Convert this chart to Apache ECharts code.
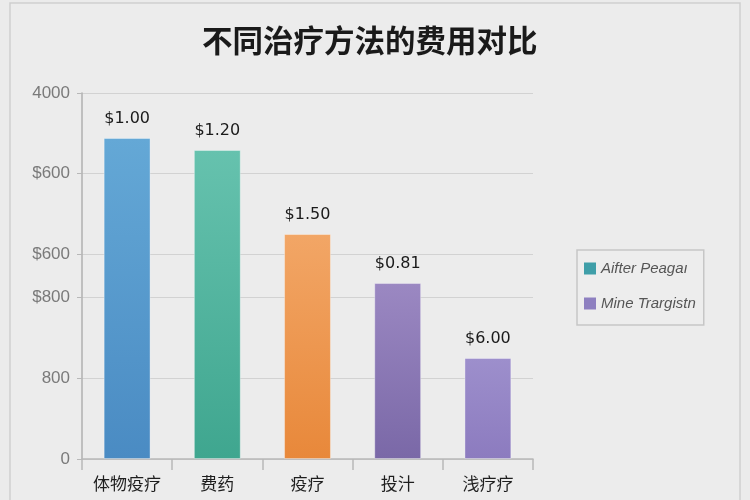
<!DOCTYPE html>
<html>
<head>
<meta charset="utf-8">
<script src="https://cdn.jsdelivr.net/npm/echarts@6/dist/echarts.min.js"></script>
<style>
  html, body { margin: 0; padding: 0; background: #e9e9e9; }
  #main { width: 750px; height: 500px; }
</style>
</head>
<body>
<div id="main"></div>
<script>
// data
var categories = ['体物疫疗', '费药', '疫疗', '投汁', '浅疗疗'];
var barValues = [3508, 3377, 2459, 1923, 1104];
var barLabels = ['$1.00', '$1.20', '$1.50', '$0.81', '$6.00'];
var tickValues = [0, 885, 1770, 2240, 3126, 4000];
var tickLabels = ['0', '800', '$800', '$600', '$600', '4000'];
var legendNames = ['Aifter Peagaı', 'Mine Trargistn'];

var barColors = [
    ['#64a8d6', '#4a8bc3'],
    ['#66c2ae', '#3fa68f'],
    ['#f2a666', '#e8883a'],
    ['#9b88c2', '#7a68a7'],
    ['#9d8fcc', '#8c7bbf']
];

var font = 'DejaVu Sans, Noto Sans CJK SC, sans-serif';

var option = {
    backgroundColor: '#ebebeb',
    animation: false,
    title: {
        text: '不同治疗方法的费用对比',
        left: 197,
        top: 20,
        textStyle: {
            fontFamily: 'Noto Sans CJK SC',
            fontSize: 30.5,
            fontWeight: 'bold',
            color: '#1a1a1a'
        }
    },
    graphic: [
        {
            type: 'rect',
            shape: { x: 10, y: 3, width: 730, height: 510 },
            style: { fill: '#ececec', stroke: '#cfcfcf', lineWidth: 1.5 },
            z: -10
        }
    ],
    legend: {
        orient: 'vertical',
        left: 577,
        top: 250,
        padding: [11, 8, 14, 7],
        itemGap: 20,
        itemWidth: 12,
        itemHeight: 12,
        icon: 'rect',
        borderColor: '#c6c6c6',
        borderWidth: 1.5,
        backgroundColor: '#ededed',
        textStyle: {
            fontFamily: 'Liberation Sans, sans-serif',
            fontStyle: 'italic',
            fontSize: 15,
            color: '#555'
        },
        data: [
            { name: legendNames[0], itemStyle: { color: '#3f9ea8' } },
            { name: legendNames[1], itemStyle: { color: '#8e80c0' } }
        ]
    },
    grid: {
        left: 82,
        right: 217,
        top: 93,
        bottom: 41
    },
    xAxis: {
        type: 'category',
        data: categories,
        axisLine: { lineStyle: { color: '#b8b8b8', width: 1.5 } },
        axisTick: { show: true, length: 11, lineStyle: { color: '#b8b8b8', width: 1.5 } },
        axisLabel: {
            margin: 16,
            fontFamily: 'Noto Sans CJK SC',
            fontSize: 17,
            color: '#1e1e1e'
        }
    },
    yAxis: {
        type: 'value',
        min: 0,
        max: 4000,
        axisLine: { show: true, lineStyle: { color: '#b0b0b0', width: 1.5 } },
        axisTick: {
            show: true,
            length: 5,
            customValues: tickValues,
            lineStyle: { color: '#b8b8b8' }
        },
        axisLabel: {
            margin: 12,
            customValues: tickValues,
            fontFamily: 'Liberation Sans, sans-serif',
            fontSize: 17,
            color: '#7a7a7a',
            formatter: function (v) {
                var i = tickValues.indexOf(v);
                return i >= 0 ? tickLabels[i] : '';
            }
        },
        splitLine: { show: true, lineStyle: { color: '#d2d2d2', width: 1.2 } }
    },
    series: [
        {
            name: legendNames[0],
            type: 'bar',
            barWidth: '52%',
            data: barValues.map(function (v, i) {
                return {
                    value: v,
                    itemStyle: {
                        color: new echarts.graphic.LinearGradient(0, 0, 0, 1, [
                            { offset: 0, color: barColors[i][0] },
                            { offset: 1, color: barColors[i][1] }
                        ]),
                        borderColor: 'rgba(255,255,255,0.35)',
                        borderWidth: 1
                    }
                };
            }),
            label: {
                show: true,
                position: 'top',
                distance: 11,
                fontFamily: font,
                fontSize: 16,
                color: '#1a1a1a',
                formatter: function (p) { return barLabels[p.dataIndex]; }
            }
        },
        {
            // legend-only entry, draws nothing
            name: legendNames[1],
            type: 'line',
            data: []
        }
    ]
};

var chart = echarts.init(document.getElementById('main'));
chart.setOption(option);
</script>
</body>
</html>
